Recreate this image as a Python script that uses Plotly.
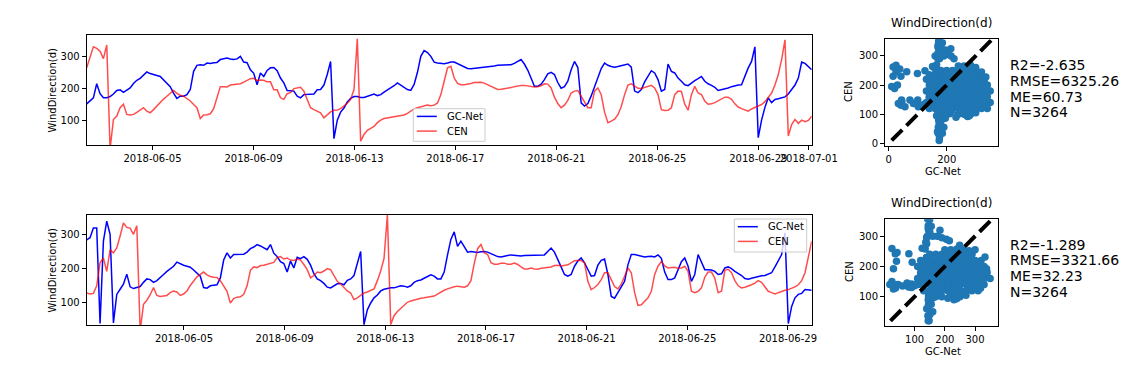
import pandas as pd
import plotly.graph_objects as go

# ---------------- data ----------------
start_top = "2018-06-02 09:26"
start_bot = "2018-06-01 03:16"
step_top_s = 11436  # seconds between readings (top panel)
step_bot_s = 11470  # seconds between readings (bottom panel)

gc_top = [
    151,160,170,214,183,170,170,174,182,193,
    195,187,194,201,215,225,231,240,251,246,
    242,240,237,227,216,205,185,168,175,175,
    180,196,253,272,274,272,279,278,280,281,
    290,292,295,292,290,292,300,282,280,258,
    247,211,248,237,256,264,265,255,232,217,
    193,192,191,175,170,180,181,182,182,195,
    196,210,243,
    284,42,100,125,138,157,168,174,174,171,
    171,174,178,182,177,180,188,194,200,208,
    217,210,203,196,193,212,250,300,318,312,
    300,282,279,278,277,279,282,282,277,272,
    266,262,261,262,264,265,267,268,269,270,
    272,272,273,273,274,278,284,290,276,257,
    232,206,206,213,227,245,250,243,218,200,
    205,222,258,284,
    265,154,144,152,176,207,238,262,279,272,
    268,266,268,271,274,276,266,191,186,196,
    220,240,255,248,227,191,196,276,253,248,
    232,222,211,208,217,224,230,237,222,214,
    209,203,193,195,198,201,205,208,210,211,
    240,264,284,330,45,100,140,170,155,165,
    167,170,173,182,195,210,232,282,278,268,
    258,
]
cen_top = [
    264,300,330,325,316,293,336,10,102,113,
    139,150,118,116,118,124,133,139,128,123,
    133,145,157,166,175,185,193,184,178,175,
    168,160,149,139,105,116,117,120,136,170,
    205,205,204,210,211,212,214,219,225,230,
    231,224,226,225,220,220,195,195,170,165,
    183,186,199,202,203,191,165,139,133,128,
    123,107,118,
    126,131,132,136,144,153,165,196,355,34,
    55,68,74,80,92,100,105,107,108,110,
    111,113,116,121,129,135,139,142,146,147,
    145,147,154,180,222,264,269,232,215,211,
    211,212,215,218,219,219,216,211,204,199,
    196,197,198,200,202,205,208,209,209,207,
    204,204,205,208,214,213,201,172,152,139,
    147,162,185,191,
    193,175,154,139,139,191,201,180,125,92,
    97,103,117,143,180,210,214,206,200,199,
    202,205,209,201,180,133,130,131,139,180,
    191,190,150,131,180,206,185,180,160,150,
    151,155,160,165,172,172,165,151,141,136,
    132,128,135,140,144,149,158,170,185,210,
    243,290,352,50,86,102,90,100,95,99,
    112,
]
gc_bot = [
    284,290,318,318,40,280,338,300,42,125,
    140,155,184,147,142,145,148,160,170,168,
    160,165,173,183,192,200,207,219,214,210,
    207,204,196,186,178,145,143,150,151,153,
    173,225,246,231,241,242,243,242,248,258,
    263,270,266,261,255,270,245,235,220,215,
    190,222,202,233,229,235,227,210,185,170,
    165,157,146,
    144,150,156,157,153,166,170,180,217,250,
    37,80,100,115,123,135,140,143,144,144,
    146,150,149,146,150,160,165,167,172,178,
    182,178,170,170,190,240,285,307,265,280,
    265,248,250,249,247,249,250,248,243,239,
    235,234,235,238,240,239,237,237,238,238,
    238,238,238,238,240,250,260,248,228,205,
    183,178,183,207,
    222,231,217,197,178,180,210,224,228,183,
    119,114,130,148,163,211,241,241,239,235,
    234,235,236,234,240,230,190,168,168,173,
    198,220,231,207,163,183,241,221,197,197,
    196,192,183,185,202,205,200,192,186,180,
    171,169,172,175,177,179,180,183,188,205,
    225,241,304,40,90,115,125,128,139,139,
    137,
]
cen_bot = [
    129,126,128,150,217,231,192,255,246,260,
    295,333,320,318,300,325,20,96,108,124,
    145,122,119,120,122,130,135,132,122,126,
    135,151,165,176,183,190,182,177,175,174,
    165,148,134,100,113,117,118,125,150,195,
    205,203,209,210,212,214,218,232,235,228,
    231,225,224,228,225,212,197,173,180,190,
    188,193,200,
    197,180,163,155,146,135,129,110,115,121,
    129,132,136,141,165,193,230,357,37,63,
    75,85,95,102,106,109,112,114,115,116,
    117,120,126,132,137,141,145,147,149,148,
    146,150,165,215,258,270,246,241,217,213,
    213,216,216,213,213,216,212,205,199,199,
    202,199,198,201,202,203,205,209,210,208,
    209,211,217,223,
    224,224,217,163,139,145,154,168,188,188,
    168,148,141,155,178,202,188,130,93,95,
    105,115,134,183,207,221,208,202,203,204,
    201,202,207,192,134,130,134,144,175,190,
    190,172,130,134,195,198,188,165,150,144,
    146,149,153,158,165,160,148,134,130,126,
    130,134,137,139,142,147,153,165,188,230,
    280,
]

# extra scatter points (pairs GC-Net, CEN)
sc_top_gc = [
    170,190,240,260,280,300,
    140,160,180,200,220,240,260,280,300,320,340,
    130,150,170,190,210,230,250,270,290,310,330,350,
    140,160,180,200,220,240,260,280,300,320,340,
    130,150,170,190,210,230,250,270,290,310,330,350,
    140,160,180,200,220,240,260,280,300,320,340,
    130,150,170,190,210,230,250,270,290,310,330,
    140,160,180,200,220,240,260,280,300,320,335,
    180,200,220,240,260,280,300,320,
    240,260,280,300,
    165,175,170,180,172,185,195,205,215,225,190,160,
    10,20,30,15,25,15,25,38,42,62,99,125,
    33,44,56,73,85,102,119,
    175,168,180,172,165,185,190,
]
sc_top_cen = [
    105,105,100,100,100,105,
    120,120,120,120,120,120,120,120,120,120,120,
    140,140,140,140,140,140,140,140,140,140,140,140,
    160,160,160,160,160,160,160,160,160,160,160,
    180,180,180,180,180,180,180,180,180,180,180,180,
    200,200,200,200,200,200,200,200,200,200,200,
    220,220,220,220,220,220,220,220,220,220,220,
    235,235,235,235,235,235,235,235,235,235,228,
    250,250,250,250,250,250,250,245,
    265,265,262,260,
    270,290,310,330,350,345,320,305,300,290,300,255,
    195,188,200,230,245,262,268,255,230,246,240,249,
    137,149,126,149,137,126,132,
    20,40,60,80,95,35,55,
]
sc_bot_gc = [
    150,170,190,210,230,250,270,
    130,150,170,190,210,230,250,270,290,310,
    110,130,150,170,190,210,230,250,270,290,310,330,
    110,130,150,170,190,210,230,250,270,290,310,330,350,
    120,140,160,180,200,220,240,260,280,300,320,340,
    110,130,150,170,190,210,230,250,270,290,310,330,
    120,140,160,180,200,220,240,260,280,300,320,
    150,170,190,210,230,250,270,290,
    200,220,240,260,280,
    150,145,150,140,160,175,190,205,215,140,135,
    18,30,45,60,75,90,105,25,
    25,36,30,81,92,333,333,
    145,150,140,155,145,160,
]
sc_bot_cen = [
    100,100,100,95,90,100,105,
    120,120,120,120,120,120,120,120,120,120,
    140,140,140,140,140,140,140,140,140,140,140,140,
    160,160,160,160,160,160,160,160,160,160,160,160,160,
    180,180,180,180,180,180,180,180,180,180,180,180,
    200,200,200,200,200,200,200,200,200,200,200,200,
    220,220,220,220,220,220,220,220,220,220,220,
    240,240,240,240,240,240,240,240,
    255,255,258,255,252,
    355,335,315,295,300,300,295,290,285,275,258,
    140,125,140,135,145,130,140,150,
    259,242,192,242,214,231,187,
    20,40,60,75,90,50,
]

ticks_top = ["2018-06-05", "2018-06-09", "2018-06-13", "2018-06-17",
             "2018-06-21", "2018-06-25", "2018-06-29", "2018-07-01"]
ticks_bot = ["2018-06-05", "2018-06-09", "2018-06-13", "2018-06-17",
             "2018-06-21", "2018-06-25", "2018-06-29"]
series_names = ["GC-Net", "CEN"]

stats_top = ["R2=-2.635", "RMSE=6325.26", "ME=60.73", "N=3264"]
stats_bot = ["R2=-1.289", "RMSE=3321.66", "ME=32.23", "N=3264"]

# ---------------- figure ----------------
W, H = 1130, 383
FONT = "DejaVu Sans"

t_top = pd.date_range(start_top, periods=len(gc_top), freq=pd.Timedelta(seconds=step_top_s))
t_bot = pd.date_range(start_bot, periods=len(gc_bot), freq=pd.Timedelta(seconds=step_bot_s))

BLUE = "#0000ff"
RED = "rgba(255,0,0,0.7)"
SC = "#1f77b4"

fig = go.Figure()
for t, gc, cen, xa, ya in [(t_top, gc_top, cen_top, "x", "y"), (t_bot, gc_bot, cen_bot, "x2", "y2")]:
    fig.add_trace(go.Scatter(x=t, y=gc, mode="lines", name=series_names[0], showlegend=False,
                             line=dict(color=BLUE, width=1.5), xaxis=xa, yaxis=ya))
    fig.add_trace(go.Scatter(x=t, y=cen, mode="lines", name=series_names[1], showlegend=False,
                             line=dict(color=RED, width=1.5), xaxis=xa, yaxis=ya))

for gc, cen, ex_x, ex_y, xa, ya in [(gc_top, cen_top, sc_top_gc, sc_top_cen, "x3", "y3"),
                                    (gc_bot, cen_bot, sc_bot_gc, sc_bot_cen, "x4", "y4")]:
    fig.add_trace(go.Scatter(x=list(gc) + list(ex_x), y=list(cen) + list(ex_y),
                             mode="markers", showlegend=False,
                             marker=dict(color=SC, size=7.5, line=dict(width=0)),
                             xaxis=xa, yaxis=ya))
    lo = min(min(gc), min(cen))
    hi = max(max(gc), max(cen))
    fig.add_trace(go.Scatter(x=[lo, hi], y=[lo, hi], mode="lines", showlegend=False,
                             line=dict(color="black", width=4, dash="15px,6px"),
                             xaxis=xa, yaxis=ya))

def px_x(p):
    return p / W

def px_y(p):
    return 1 - p / H

axis_common = dict(showline=True, mirror=True, linecolor="black", linewidth=1,
                   ticks="outside", ticklen=4, tickwidth=1, tickcolor="black",
                   showgrid=False, zeroline=False, automargin=False, tickangle=0,
                   tickfont=dict(family=FONT, size=10, color="black"))

ts_dom_x = [px_x(86.7), px_x(811.7)]
sc_dom_x = [px_x(885), px_x(998.3)]

fig.update_layout(
    width=W, height=H, autosize=False,
    margin=dict(l=0, r=0, t=0, b=0, pad=0),
    paper_bgcolor="white", plot_bgcolor="white",
    font=dict(family=FONT, size=10, color="black"),
    showlegend=False,
    xaxis=dict(domain=ts_dom_x, anchor="y", type="date",
               range=[t_top[0], t_top[-1]], tickvals=ticks_top,
               tickformat="%Y-%m-%d", **axis_common),
    yaxis=dict(domain=[px_y(145.3), px_y(34.7)], anchor="x", range=[21, 368],
               tickvals=[100, 200, 300], **axis_common),
    xaxis2=dict(domain=ts_dom_x, anchor="y2", type="date",
                range=[t_bot[0], t_bot[-1]], tickvals=ticks_bot,
                tickformat="%Y-%m-%d", **axis_common),
    yaxis2=dict(domain=[px_y(325.3), px_y(214.7)], anchor="x2", range=[35, 357],
                tickvals=[100, 200, 300], **axis_common),
    xaxis3=dict(domain=sc_dom_x, anchor="y3", range=[-13, 378],
                tickvals=[0, 200], **axis_common),
    yaxis3=dict(domain=[px_y(146), px_y(39.3)], anchor="x3", range=[-9, 357],
                tickvals=[0, 100, 200, 300], **axis_common),
    xaxis4=dict(domain=sc_dom_x, anchor="y4", range=[2, 377],
                tickvals=[100, 200, 300], **axis_common),
    yaxis4=dict(domain=[px_y(326), px_y(219.3)], anchor="x4", range=[3, 356],
                tickvals=[100, 200, 300], **axis_common),
)

ann = []
shapes = []
def add_text(text, x, y, size, angle=0, xanchor="center", yanchor="middle"):
    ann.append(dict(text=text, x=px_x(x), y=px_y(y), xref="paper", yref="paper",
                    showarrow=False, textangle=angle, xanchor=xanchor, yanchor=yanchor,
                    font=dict(family=FONT, size=size, color="black")))

def add_legend(x0, y0, w, h):
    shapes.append(dict(type="rect", xref="paper", yref="paper",
                       x0=px_x(x0), x1=px_x(x0 + w), y0=px_y(y0 + h), y1=px_y(y0),
                       line=dict(color="#cccccc", width=1),
                       fillcolor="rgba(255,255,255,0.8)", layer="above"))
    for i, (name, col) in enumerate(zip(series_names, [BLUE, RED])):
        yy = y0 + 7.7 + i * 14.7
        shapes.append(dict(type="line", xref="paper", yref="paper",
                           x0=px_x(x0 + 3.5), x1=px_x(x0 + 23.5), y0=px_y(yy), y1=px_y(yy),
                           line=dict(color=col, width=1.5), layer="above"))
        add_text(name, x0 + 31.5, yy, 10, xanchor="left")

add_legend(413.3, 108.7, 71.7, 32.6)
add_legend(734.3, 219, 72.4, 33)

add_text("WindDirection(d)", 51.5, 90, 10, angle=-90)
add_text("WindDirection(d)", 51.5, 270, 10, angle=-90)
add_text("WindDirection(d)", 941.5, 23.3, 12)
add_text("WindDirection(d)", 941.5, 203.3, 12)
add_text("CEN", 849, 92, 10, angle=-90)
add_text("CEN", 849, 272, 10, angle=-90)
add_text("GC-Net", 943, 171.7, 10)
add_text("GC-Net", 943, 351.7, 10)
for i, s in enumerate(stats_top):
    add_text(s, 1008, 65 + i * 15.8, 14, xanchor="left")
for i, s in enumerate(stats_bot):
    add_text(s, 1008, 244.5 + i * 15.8, 14, xanchor="left")
fig.update_layout(annotations=ann, shapes=shapes)

fig.write_html(
    "out.html",
    config={"responsive": False, "displayModeBar": False},
    post_script="document.body.style.margin='0';document.body.style.overflow='hidden';",
)
